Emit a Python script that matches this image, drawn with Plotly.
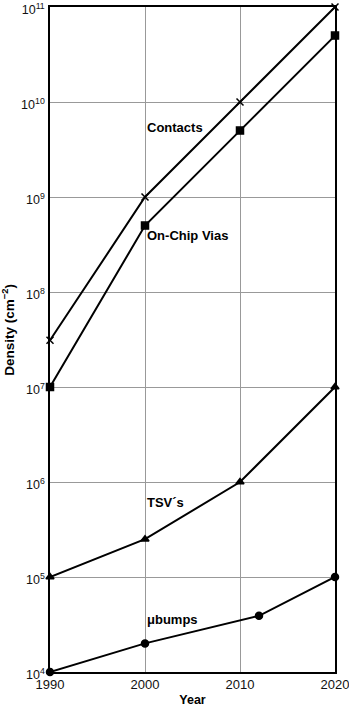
import plotly.graph_objects as go

contacts_years = [1990, 2000, 2010, 2020]
contacts_vals = [3.1e7, 1e9, 1e10, 1e11]
vias_years = [1990, 2000, 2010, 2020]
vias_vals = [1e7, 5e8, 5e9, 5e10]
tsv_years = [1990, 2000, 2010, 2020]
tsv_vals = [1e5, 2.5e5, 1e6, 1e7]
bumps_years = [1990, 2000, 2012, 2020]
bumps_vals = [1e4, 2e4, 3.9e4, 1e5]

y_tickvals = [1e4, 1e5, 1e6, 1e7, 1e8, 1e9, 1e10, 1e11]
y_ticktext = ["10<sup>%d</sup>" % e for e in range(4, 12)]
x_tickvals = [1990, 2000, 2010, 2020]

FONT = "Liberation Sans, Arial, Helvetica, sans-serif"

fig = go.Figure()

def add(x, y, symbol, size, name):
    fig.add_trace(go.Scatter(
        x=x, y=y, mode="lines+markers", name=name,
        line=dict(color="black", width=2),
        marker=dict(symbol=symbol, size=size, color="black",
                    line=dict(color="black", width=1.5)),
        showlegend=False, cliponaxis=False))

add(contacts_years, contacts_vals, "x-thin", 7, "Contacts")
add(vias_years, vias_vals, "square", 7, "On-Chip Vias")
add(tsv_years, tsv_vals, "triangle-up", 7, "TSV´s")
add(bumps_years, bumps_vals, "circle", 7, "μbumps")

labels = [
    ("Contacts", 2000.0, 9.73),
    ("On-Chip Vias", 2000.0, 8.59),
    ("TSV´s", 2000.0, 5.78),
    ("μbumps", 2000.0, 4.55),
]
for t, x, ly in labels:
    fig.add_annotation(x=x, y=ly, text="<b>%s</b>" % t, showarrow=False,
                       xanchor="left", yanchor="middle",
                       font=dict(family=FONT, size=13, color="black"))

# y-axis title placed as a rotated annotation (slightly above centre, like the reference)
fig.add_annotation(xref="paper", yref="paper", x=-0.145, y=0.514,
                   text="<b>Density (cm<sup>−2</sup>)</b>", textangle=-90,
                   showarrow=False, xanchor="center", yanchor="middle",
                   font=dict(family=FONT, size=13.5, color="black"))

fig.update_layout(
    width=349, height=708,
    margin=dict(l=50, r=14, t=7, b=36),
    paper_bgcolor="white", plot_bgcolor="white",
    font=dict(family=FONT, size=13, color="black"),
)
fig.update_xaxes(
    range=[1990, 2020], tickvals=x_tickvals,
    showgrid=True, gridcolor="#999999", gridwidth=1,
    showline=True, linecolor="black", linewidth=1.5, mirror=True,
    ticks="", zeroline=False, automargin=False, ticklabeloverflow="allow",
    tickfont=dict(family=FONT, size=13, color="#111111"),
    title=dict(text="<b>Year</b>", font=dict(family=FONT, size=12.5), standoff=4),
)
fig.update_yaxes(
    type="log", range=[4, 11], tickvals=y_tickvals, ticktext=y_ticktext,
    showgrid=True, gridcolor="#999999", gridwidth=1,
    showline=True, linecolor="black", linewidth=1.5, mirror=True,
    ticks="", zeroline=False, automargin=False, ticklabeloverflow="allow",
    ticklabelstandoff=1, ticklabelshift=3,
    tickfont=dict(family=FONT, size=12.5, color="#111111"),
)

fig.write_html("out.html", config={"displayModeBar": False},
               post_script="document.body.style.margin='0px';")
